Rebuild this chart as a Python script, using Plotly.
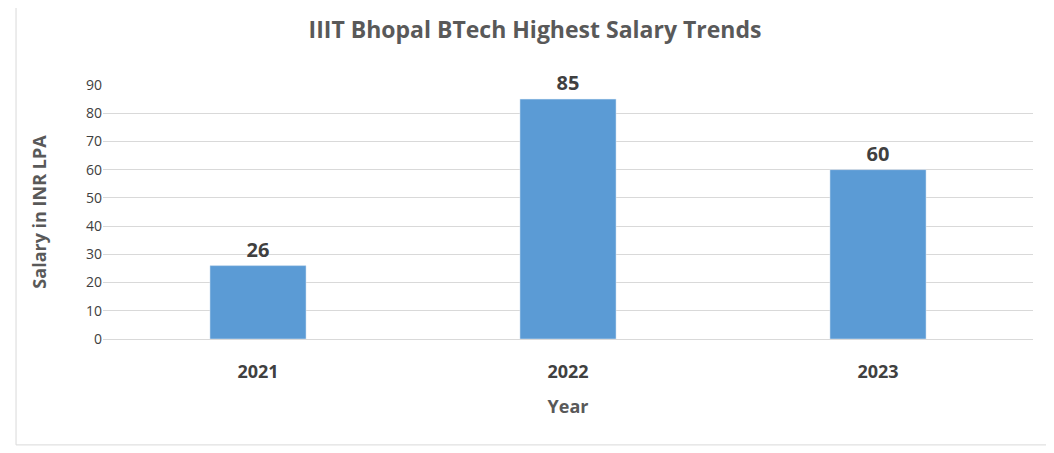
import plotly.graph_objects as go

years = ["2021", "2022", "2023"]
salary = [26, 85, 60]

fig = go.Figure()
fig.add_trace(go.Bar(
    x=years, y=salary,
    marker=dict(color="#5B9BD5"),
    text=["<b>%d</b>" % v for v in salary], textposition="outside",
    textfont=dict(size=20, color="#404040", family="Open Sans"),
    cliponaxis=False,
))

fig.update_layout(
    width=1054, height=453,
    paper_bgcolor="white", plot_bgcolor="white",
    margin=dict(l=95, r=29, t=77, b=122),
    bargap=0.69,
    showlegend=False,
    font=dict(family="Open Sans", color="#595959"),
    title=dict(text="<b>IIIT Bhopal BTech Highest Salary Trends</b>",
               x=0.5, xanchor="center", y=0.952, yanchor="middle",
               font=dict(size=23, color="#595959")),
    xaxis=dict(
        tickfont=dict(size=18, color="#404040", family="Open Sans"),
        tickprefix="<b>", ticksuffix="</b>",
        ticklabelstandoff=16,
        title=dict(text="<b>Year</b>", font=dict(size=18, color="#595959"), standoff=18),
        showline=True, linecolor="#d9d9d9", ticks="",
    ),
    yaxis=dict(
        range=[0, 90], dtick=10,
        gridcolor="#d9d9d9", zeroline=False,
        tickfont=dict(size=14, color="#404040"),
        title=dict(text="<b>Salary in INR LPA</b>", font=dict(size=18, color="#595959"), standoff=34),
    ),
    shapes=[dict(type="rect", xref="paper", yref="paper", x0=-0.0935, x1=1.0226, y0=-0.417, y1=1.315,
                 line=dict(color="#d9d9d9", width=1))],
)

fig.write_html("out.html")
